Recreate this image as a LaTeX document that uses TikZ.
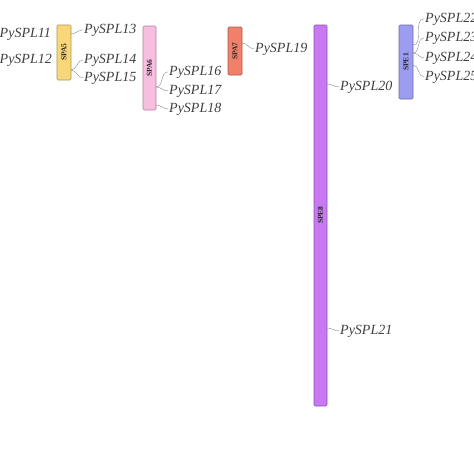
\documentclass[tikz,border=0pt]{standalone}
\usepackage{fontspec}
\setmainfont{Liberation Serif}
\begin{document}
\begin{tikzpicture}[x=1pt,y=-1pt,
  chrom/.style={draw=#1!70!black, fill=#1, rounded corners=1.2pt, line width=0.6pt},
  chromlab/.style={rotate=90, font=\fontsize{7.5}{8}\selectfont\bfseries, text=black!85, inner sep=0pt},
  gene/.style={font=\fontsize{14}{16}\selectfont\itshape, text=black!75, inner sep=0pt},
  link/.style={draw=black!45, line width=0.4pt}
]
\definecolor{cA}{HTML}{F8D77A}
\definecolor{cB}{HTML}{F7BEE0}
\definecolor{cC}{HTML}{F0806A}
\definecolor{cD}{HTML}{C878F2}
\definecolor{cE}{HTML}{9C9CF0}
\useasboundingbox (0,0) rectangle (474,474);
\clip (0,0) rectangle (474,474);
\fill[white] (0,0) rectangle (474,474);

% chromosomes
\draw[chrom=cA] (57,25) rectangle (71,80);
\node[chromlab] (c5) at (64,52) {SPA5};
\draw[chrom=cB] (143,26) rectangle (156,110);
\node[chromlab] (c6) at (149.5,68) {SPA6};
\draw[chrom=cC] (228,27) rectangle (242,75);
\node[chromlab] (c7) at (235,51) {SPA7};
\draw[chrom=cD] (314,25) rectangle (327,406);
\node[chromlab] (c8) at (320.5,215) {SPE8};
\draw[chrom=cE] (399,25) rectangle (413,99);
\node[chromlab] (c1) at (406,62) {SPE1};

% anchor points on chromosomes
\coordinate (p13) at (71,34);
\coordinate (p1415) at (71,70);
\coordinate (p1617) at (156,87);
\coordinate (p18) at (156,105);
\coordinate (p19) at (242,43);
\coordinate (p20) at (327,84);
\coordinate (p21) at (327,328);
\coordinate (p22) at (413,45);
\coordinate (p2324) at (413,53);
\coordinate (p25) at (413,65);

% gene labels (base anchors: baseline = visual centre + 4.6)
\node[gene, anchor=base east] (g11) at (51,37) {PySPL11};
\node[gene, anchor=base east] (g12) at (52,63) {PySPL12};
\node[gene, anchor=base west] (g13) at (84,33) {PySPL13};
\node[gene, anchor=base west] (g14) at (84,63) {PySPL14};
\node[gene, anchor=base west] (g15) at (84,81) {PySPL15};
\node[gene, anchor=base west] (g16) at (169,75) {PySPL16};
\node[gene, anchor=base west] (g17) at (169,94) {PySPL17};
\node[gene, anchor=base west] (g18) at (169,112) {PySPL18};
\node[gene, anchor=base west] (g19) at (255,52) {PySPL19};
\node[gene, anchor=base west] (g20) at (340,90) {PySPL20};
\node[gene, anchor=base west] (g21) at (340,334) {PySPL21};
\node[gene, anchor=base west] (g22) at (425,22) {PySPL22};
\node[gene, anchor=base west] (g23) at (425,41) {PySPL23};
\node[gene, anchor=base west] (g24) at (425,61) {PySPL24};
\node[gene, anchor=base west] (g25) at (425,80) {PySPL25};

% connectors
\draw[link] (p13) to[out=0,in=180] ([xshift=-1pt]g13.west);
\draw[link] (p1415) to[out=0,in=180] ([xshift=-1pt]g14.west);
\draw[link] (p1415) to[out=0,in=180] ([xshift=-1pt]g15.west);
\draw[link] (p1617) to[out=0,in=180] ([xshift=-1pt]g16.west);
\draw[link] (p1617) to[out=0,in=180] ([xshift=-1pt]g17.west);
\draw[link] (p18) to[out=0,in=180] ([xshift=-1pt]g18.west);
\draw[link] (p19) to[out=0,in=180] ([xshift=-1pt]g19.west);
\draw[link] (p20) to[out=0,in=180] ([xshift=-1pt]g20.west);
\draw[link] (p21) to[out=0,in=180] ([xshift=-1pt]g21.west);
\draw[link] (p22) to[out=0,in=180] ([xshift=-1pt]g22.west);
\draw[link] (p2324) to[out=0,in=180] ([xshift=-1pt]g23.west);
\draw[link] (p2324) to[out=0,in=180] ([xshift=-1pt]g24.west);
\draw[link] (p25) to[out=0,in=180] ([xshift=-1pt]g25.west);
\end{tikzpicture}
\end{document}
